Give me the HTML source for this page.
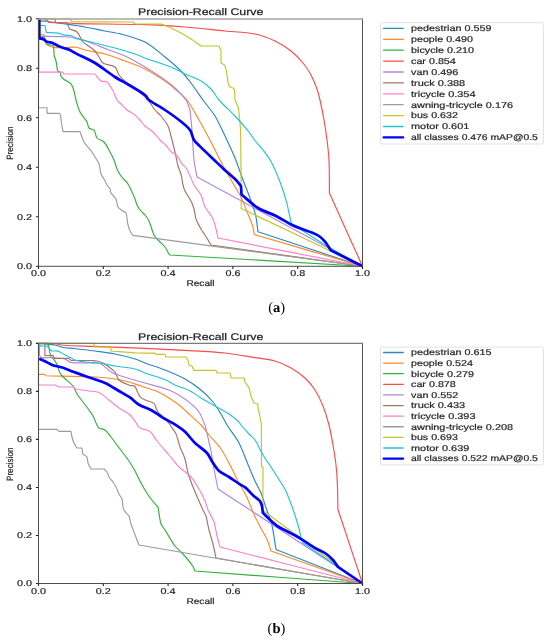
<!DOCTYPE html>
<html><head><meta charset="utf-8"><style>
html,body{margin:0;padding:0;background:#fff;}
svg{display:block;}
text{font-family:"Liberation Sans",sans-serif;text-rendering:geometricPrecision;stroke:#262626;stroke-width:0.2px;}
svg{will-change:transform;}
.cap{font-family:"Liberation Serif",serif;stroke:none;}
</style></head><body>
<svg width="550" height="642" viewBox="0 0 550 642">
<rect width="550" height="642" fill="#fff"/>
<g fill="none" stroke-linejoin="round" stroke-linecap="butt">
<path d="M38.50,18.70 C38.74,19.42 39.06,20.38 39.30,21.10 C41.79,21.10 45.11,21.10 47.60,21.10 C48.05,21.31 48.61,21.72 49.10,21.80 C54.96,22.72 62.83,23.55 68.70,24.40 C73.60,25.11 80.13,26.11 85.00,27.00 C91.02,28.09 98.99,29.83 105.00,31.00 C109.79,31.93 116.29,32.71 121.00,34.00 C128.32,36.01 138.27,38.48 145.00,42.00 C151.65,45.47 159.16,52.30 165.00,57.00 C169.97,61.00 176.49,66.49 181.00,71.00 C184.31,74.31 188.17,79.27 191.00,83.00 C194.77,87.97 199.33,94.95 203.00,100.00 C206.53,104.85 211.87,110.88 215.00,116.00 C218.50,121.72 222.12,129.94 225.00,136.00 C228.12,142.55 232.25,151.29 235.00,158.00 C237.66,164.50 240.54,173.42 243.00,180.00 C245.34,186.23 248.77,194.43 251.00,200.70 C252.61,205.23 254.74,211.31 255.80,216.00 C256.85,220.67 257.34,227.06 258.00,231.80 C289.35,242.15 331.15,255.95 362.50,266.30" stroke="#2a86c6" stroke-width="1.15"/>
<path d="M38.50,34.50 C40.15,34.62 42.35,34.78 44.00,34.90 C44.00,35.77 44.00,36.93 44.00,37.80 C44.66,39.54 45.09,42.11 46.20,43.60 C47.13,44.85 49.09,45.85 50.50,46.50 C51.74,47.07 53.54,47.49 54.90,47.60 C57.74,47.82 61.55,47.64 64.40,47.60 C67.88,47.55 72.54,46.90 76.00,47.30 C78.80,47.63 82.25,49.37 85.00,50.00 C90.96,51.38 99.10,52.38 105.00,54.00 C111.13,55.69 119.05,58.77 125.00,61.00 C131.05,63.27 139.22,66.11 145.00,69.00 C151.26,72.13 159.18,77.12 165.00,81.00 C168.20,83.13 172.09,86.49 175.00,89.00 C178.70,92.19 184.01,96.14 187.00,100.00 C191.28,105.53 195.53,113.92 199.00,120.00 C202.73,126.53 207.51,135.34 211.00,142.00 C214.11,147.94 217.84,156.08 221.00,162.00 C224.74,168.99 230.07,178.12 234.00,185.00 C236.07,188.62 239.17,193.26 241.00,197.00 C242.92,200.93 244.88,206.44 246.50,210.50 C248.48,215.44 251.37,221.93 253.00,227.00 C253.70,229.17 253.84,232.25 254.20,234.50 C286.69,244.04 330.01,256.76 362.50,266.30" stroke="#ff8a26" stroke-width="1.15"/>
<path d="M38.50,37.10 C40.36,37.31 42.84,37.59 44.70,37.80 C45.36,39.78 46.24,42.42 46.90,44.40 C48.88,44.73 51.52,45.17 53.50,45.50 C53.71,48.65 53.99,52.85 54.20,56.00 C54.74,57.50 55.63,59.45 56.00,61.00 C56.72,64.02 56.72,68.29 57.80,71.20 C58.06,71.90 59.68,71.49 60.10,72.10 C60.76,73.07 60.46,74.86 61.00,75.90 C61.60,77.05 62.81,78.36 63.80,79.20 C64.82,80.06 66.50,80.75 67.60,81.50 C68.75,82.28 70.52,83.15 71.30,84.30 C72.51,86.10 73.38,88.92 74.00,91.00 C74.79,93.65 75.24,97.34 76.00,100.00 C77.04,103.65 78.30,108.61 80.00,112.00 C81.64,115.28 85.20,118.81 87.00,122.00 C87.93,123.65 87.75,126.57 89.00,128.00 C90.06,129.22 92.99,128.74 94.00,130.00 C95.60,132.00 95.36,136.03 97.00,138.00 C98.55,139.86 102.35,140.23 104.00,142.00 C106.38,144.56 108.30,148.94 110.00,152.00 C111.30,154.35 112.98,157.52 114.00,160.00 C115.08,162.63 115.86,166.39 117.00,169.00 C117.97,171.22 119.57,174.05 121.00,176.00 C122.89,178.57 126.34,181.28 128.00,184.00 C130.58,188.24 133.04,194.44 135.00,199.00 C135.75,200.74 136.15,203.30 137.00,205.00 C137.97,206.93 139.65,209.31 141.00,211.00 C142.06,212.33 143.94,213.67 145.00,215.00 C146.35,216.69 148.11,219.03 149.00,221.00 C150.83,225.07 152.01,231.01 154.00,235.00 C155.05,237.10 157.42,239.27 159.00,241.00 C160.72,242.88 163.45,244.98 165.00,247.00 C166.47,248.92 167.72,251.95 169.00,254.00 C169.22,254.36 169.70,254.70 170.00,255.00 C227.75,258.39 304.75,262.91 362.50,266.30" stroke="#2fb23a" stroke-width="1.15"/>
<path d="M38.50,18.70 C40.15,18.70 42.35,18.70 44.00,18.70 C44.87,19.21 46.12,19.77 46.90,20.40 C47.55,20.92 48.16,21.87 48.70,22.50 C54.28,22.62 61.72,22.68 67.30,22.90 C69.92,23.01 73.38,23.54 76.00,23.60 C96.70,24.05 124.31,23.95 145.00,24.60 C157.02,24.97 173.02,26.04 185.00,27.00 C197.02,27.96 213.00,29.80 225.00,31.00 C234.00,31.90 246.13,32.23 255.00,34.00 C261.23,35.25 269.25,38.29 275.00,41.00 C280.12,43.42 286.55,47.50 291.00,51.00 C295.00,54.15 299.74,59.09 303.00,63.00 C305.77,66.32 308.95,71.19 311.00,75.00 C313.17,79.02 315.45,84.70 317.00,89.00 C318.16,92.22 319.25,96.66 320.00,100.00 C321.35,105.97 322.95,113.97 324.00,120.00 C325.05,125.98 326.25,133.98 327.00,140.00 C327.75,145.98 328.68,153.98 329.00,160.00 C329.40,167.49 329.31,177.50 329.40,185.00 C329.43,187.40 329.40,190.60 329.40,193.00 C339.33,214.99 352.57,244.31 362.50,266.30" stroke="#ff4a4a" stroke-width="1.15"/>
<path d="M38.50,36.40 C46.48,36.49 57.13,36.40 65.10,36.70 C68.38,36.82 72.81,37.02 76.00,37.80 C80.63,38.93 86.53,41.35 91.00,43.00 C96.43,45.01 103.59,47.93 109.00,50.00 C113.79,51.83 120.36,53.81 125.00,56.00 C131.19,58.92 139.13,63.48 145.00,67.00 C151.14,70.68 159.14,75.90 165.00,80.00 C168.15,82.20 172.22,85.35 175.00,88.00 C178.54,91.37 183.25,95.96 186.00,100.00 C187.82,102.67 188.80,107.00 190.00,110.00 C190.60,116.00 191.52,123.99 192.00,130.00 C192.72,138.99 193.05,151.03 194.00,160.00 C194.55,165.15 196.10,171.90 197.00,177.00 C246.65,203.79 312.85,239.51 362.50,266.30" stroke="#b088dc" stroke-width="1.15"/>
<path d="M38.50,18.70 C43.54,18.70 50.26,18.70 55.30,18.70 C55.30,19.84 55.30,21.36 55.30,22.50 C58.90,22.74 63.70,23.06 67.30,23.30 C67.96,25.04 68.84,27.36 69.50,29.10 C71.75,29.97 75.26,30.33 77.00,32.00 C79.53,34.42 80.87,39.23 83.00,42.00 C83.91,43.19 85.80,44.10 87.00,45.00 C89.40,46.80 92.88,48.88 95.00,51.00 C96.53,52.53 97.80,55.20 99.00,57.00 C100.20,58.80 101.17,61.85 103.00,63.00 C106.22,65.01 111.96,64.72 115.00,67.00 C117.15,68.61 117.39,72.85 119.00,75.00 C121.04,77.72 124.39,80.83 127.00,83.00 C129.81,85.34 134.15,87.70 137.00,90.00 C140.47,92.81 145.02,96.69 148.00,100.00 C150.45,102.72 152.69,107.16 155.00,110.00 C156.61,111.98 159.39,114.02 161.00,116.00 C163.31,118.84 166.36,122.72 168.00,126.00 C169.40,128.80 170.19,132.98 171.00,136.00 C172.29,140.78 173.88,147.18 175.00,152.00 C175.98,156.18 176.87,161.86 178.00,166.00 C178.67,168.47 180.35,171.52 181.00,174.00 C181.85,177.24 182.23,181.74 183.00,185.00 C183.43,186.85 184.15,189.30 185.00,191.00 C186.56,194.13 189.44,197.87 191.00,201.00 C192.15,203.29 193.31,206.53 194.00,209.00 C194.82,211.95 194.99,216.11 196.00,219.00 C197.11,222.17 199.36,226.08 201.00,229.00 C202.06,230.89 203.85,233.17 205.00,235.00 C206.85,237.97 209.20,242.00 211.00,245.00 C256.45,251.39 317.05,259.91 362.50,266.30" stroke="#a47464" stroke-width="1.15"/>
<path d="M38.90,18.70 C38.90,34.72 38.90,56.08 38.90,72.10 C46.10,72.10 55.70,72.10 62.90,72.10 C63.17,72.67 63.53,73.43 63.80,74.00 C73.16,74.00 85.64,74.00 95.00,74.00 C96.80,76.10 98.70,79.47 101.00,81.00 C102.52,82.01 105.60,80.83 107.00,82.00 C109.49,84.08 111.42,88.16 113.00,91.00 C114.43,93.58 115.45,97.48 117.00,100.00 C117.89,101.45 119.80,102.80 121.00,104.00 C122.80,105.80 125.00,108.43 127.00,110.00 C129.23,111.75 132.74,113.30 135.00,115.00 C136.36,116.02 137.86,117.74 139.00,119.00 C140.86,121.05 142.97,124.12 145.00,126.00 C147.20,128.04 150.81,129.95 153.00,132.00 C155.33,134.18 157.79,137.70 160.00,140.00 C161.84,141.91 164.67,144.07 166.50,146.00 C167.98,147.56 169.41,150.15 171.00,151.60 C172.42,152.89 175.12,153.58 176.40,155.00 C178.44,157.26 179.99,161.15 181.80,163.60 C182.88,165.07 184.99,166.48 186.00,168.00 C187.63,170.45 189.25,174.04 190.50,176.70 C191.65,179.15 192.66,182.66 194.00,185.00 C195.82,188.18 199.36,191.72 201.00,195.00 C202.70,198.39 203.30,203.61 205.00,207.00 C206.64,210.28 210.22,213.80 212.00,217.00 C213.24,219.24 214.30,222.54 215.00,225.00 C216.10,228.85 217.10,234.10 218.00,238.00 C261.35,246.49 319.15,257.81 362.50,266.30" stroke="#ff80cc" stroke-width="1.15"/>
<path d="M38.50,18.70 C38.50,45.40 38.50,81.00 38.50,107.70 C41.05,107.70 44.45,107.70 47.00,107.70 C47.00,109.38 47.00,111.62 47.00,113.30 C50.66,113.30 55.54,113.30 59.20,113.30 C59.62,113.99 60.39,114.82 60.60,115.60 C60.94,116.88 60.88,118.68 61.00,120.00 C61.60,123.48 62.40,128.12 63.00,131.60 C68.10,131.60 74.90,131.60 80.00,131.60 C80.60,133.22 81.38,135.39 82.00,137.00 C82.58,138.51 83.22,140.59 84.00,142.00 C84.73,143.31 86.06,144.83 87.00,146.00 C88.46,147.83 90.62,150.11 92.00,152.00 C93.03,153.41 94.12,155.49 95.00,157.00 C96.22,159.09 98.20,161.72 99.00,164.00 C100.02,166.88 100.03,171.10 101.00,174.00 C101.55,175.66 103.16,177.46 104.00,179.00 C104.96,180.77 105.96,183.27 107.00,185.00 C107.77,186.29 109.33,187.66 110.00,189.00 C110.55,190.11 110.36,191.94 111.00,193.00 C112.21,195.01 114.95,196.90 116.00,199.00 C117.11,201.21 116.75,204.86 118.00,207.00 C118.97,208.66 121.46,209.85 123.00,211.00 C123.87,211.65 125.64,211.98 126.00,213.00 C127.23,216.44 127.11,221.46 128.00,225.00 C128.62,227.49 129.89,230.69 131.00,233.00 C131.41,233.84 132.40,234.68 133.00,235.40 C201.85,244.67 293.65,257.03 362.50,266.30" stroke="#9c9c9c" stroke-width="1.15"/>
<path d="M38.50,18.70 C48.10,18.70 60.90,18.70 70.50,18.70 C70.83,19.63 71.27,20.87 71.60,21.80 C90.02,21.86 114.58,21.94 133.00,22.00 C133.60,22.60 134.40,23.40 135.00,24.00 C142.80,24.00 153.20,24.00 161.00,24.00 C163.40,24.90 166.66,25.95 169.00,27.00 C172.67,28.65 177.47,31.07 181.00,33.00 C184.07,34.68 188.07,37.09 191.00,39.00 C194.07,41.00 198.00,43.90 201.00,46.00 C206.40,46.00 213.60,46.00 219.00,46.00 C219.60,47.50 220.40,49.50 221.00,51.00 C221.00,54.60 221.00,59.40 221.00,63.00 C222.20,63.90 224.33,64.66 225.00,66.00 C226.24,68.47 226.46,72.29 227.00,75.00 C227.66,78.29 227.50,83.00 229.00,86.00 C229.78,87.56 233.31,87.39 234.00,89.00 C235.31,92.05 234.70,96.70 235.00,100.00 C236.05,102.40 237.45,105.60 238.50,108.00 C239.10,114.60 240.32,123.38 240.50,130.00 C241.13,153.51 240.99,184.88 241.20,208.40 C277.59,225.77 326.11,248.93 362.50,266.30" stroke="#c4c428" stroke-width="1.15"/>
<path d="M38.50,25.50 C40.48,25.50 43.12,25.50 45.10,25.50 C45.43,27.57 45.87,30.33 46.20,32.40 C49.68,32.61 54.35,32.60 57.80,33.10 C59.60,33.36 61.81,34.55 63.60,34.90 C66.21,35.42 69.85,35.23 72.40,36.00 C73.27,36.26 73.87,37.54 74.50,38.20 C80.65,39.64 88.86,41.51 95.00,43.00 C101.01,44.45 109.04,46.36 115.00,48.00 C121.04,49.66 129.06,52.02 135.00,54.00 C138.07,55.02 141.96,56.90 145.00,58.00 C152.76,60.80 163.34,63.93 171.00,67.00 C175.36,68.74 180.74,72.01 185.00,74.00 C189.75,76.22 196.46,78.38 201.00,81.00 C204.33,82.92 208.36,86.21 211.00,89.00 C213.81,91.96 216.29,96.95 219.00,100.00 C223.51,105.07 230.36,111.05 235.00,116.00 C239.36,120.65 244.98,127.05 249.00,132.00 C250.84,134.26 252.71,137.70 254.50,140.00 C256.92,143.11 260.61,146.87 263.00,150.00 C265.57,153.36 269.03,157.86 271.00,161.60 C274.27,167.80 277.88,176.46 280.40,183.00 C282.53,188.53 284.97,196.07 286.50,201.80 C288.21,208.21 289.79,216.92 291.20,223.40 C301.64,230.03 315.56,238.87 326.00,245.50 C336.95,251.74 351.55,260.06 362.50,266.30" stroke="#1ec4d6" stroke-width="1.15"/>
<path d="M39.30,18.70 C39.30,24.64 39.30,32.56 39.30,38.50 C40.50,38.74 42.18,38.81 43.30,39.30 C44.51,39.82 45.67,41.33 46.90,41.80 C48.55,42.43 51.04,42.29 52.70,42.90 C54.35,43.51 56.21,45.05 57.80,45.80 C59.49,46.59 61.84,47.40 63.60,48.00 C65.11,48.51 67.24,48.86 68.70,49.50 C70.77,50.40 73.29,52.07 75.30,53.10 C81.18,56.12 89.33,59.59 95.00,63.00 C101.27,66.78 108.85,73.02 115.00,77.00 C119.06,79.63 124.85,82.51 129.00,85.00 C133.85,87.91 140.47,91.60 145.00,95.00 C146.54,96.15 147.46,98.85 149.00,100.00 C153.53,103.40 160.29,106.86 165.00,110.00 C169.29,112.86 174.97,116.78 179.00,120.00 C182.48,122.79 187.32,126.43 190.00,130.00 C191.94,132.58 192.32,137.24 194.00,140.00 C195.37,142.25 198.12,144.55 200.00,146.40 C205.33,151.64 212.61,158.43 218.00,163.60 C219.69,165.21 221.87,167.43 223.60,169.00 C227.28,172.35 232.44,176.52 236.00,180.00 C237.68,181.64 239.50,184.20 241.00,186.00 C241.15,188.55 241.35,191.95 241.50,194.50 C246.45,198.55 252.57,204.62 258.00,208.00 C263.02,211.13 270.71,213.36 276.00,216.00 C280.63,218.31 286.40,222.14 291.00,224.50 C293.61,225.84 297.26,227.25 300.00,228.30 C303.51,229.65 308.32,231.08 311.80,232.50 C314.00,233.40 316.93,234.67 318.90,236.00 C320.87,237.33 323.21,239.53 324.80,241.30 C326.08,242.73 327.34,245.00 328.40,246.60 C329.11,247.67 330.01,249.12 330.70,250.20 C340.24,255.03 352.96,261.47 362.50,266.30" stroke="#0000ff" stroke-width="2.70"/>
</g>
<path d="M38.5,18.2 L38.5,266.3 L362.5,266.3" fill="none" stroke="#4d4d4d" stroke-width="1"/>
<path d="M362.5,18.2 L362.5,266.3" fill="none" stroke="#4d4d4d" stroke-width="1"/>
<path d="M38.0,19.00 L363.0,19.00" fill="none" stroke="#a4a4a4" stroke-width="1.60"/>
<path d="M38.5,266.3 L38.5,268.9 M35.9,266.3 L38.5,266.3 M103.3,266.3 L103.3,268.9 M35.9,216.8 L38.5,216.8 M168.1,266.3 L168.1,268.9 M35.9,167.3 L38.5,167.3 M232.9,266.3 L232.9,268.9 M35.9,117.7 L38.5,117.7 M297.7,266.3 L297.7,268.9 M35.9,68.2 L38.5,68.2 M362.5,266.3 L362.5,268.9 M35.9,18.7 L38.5,18.7" stroke="#262626" stroke-width="1.1"/>
<text x="31.00" y="276.40" font-size="8.40" textLength="15.00" lengthAdjust="spacingAndGlyphs" fill="#262626">0.0</text>
<text x="17.00" y="269.10" font-size="8.40" textLength="15.00" lengthAdjust="spacingAndGlyphs" fill="#262626">0.0</text>
<text x="95.80" y="276.40" font-size="8.40" textLength="15.00" lengthAdjust="spacingAndGlyphs" fill="#262626">0.2</text>
<text x="17.00" y="219.58" font-size="8.40" textLength="15.00" lengthAdjust="spacingAndGlyphs" fill="#262626">0.2</text>
<text x="160.60" y="276.40" font-size="8.40" textLength="15.00" lengthAdjust="spacingAndGlyphs" fill="#262626">0.4</text>
<text x="17.00" y="170.06" font-size="8.40" textLength="15.00" lengthAdjust="spacingAndGlyphs" fill="#262626">0.4</text>
<text x="225.40" y="276.40" font-size="8.40" textLength="15.00" lengthAdjust="spacingAndGlyphs" fill="#262626">0.6</text>
<text x="17.00" y="120.54" font-size="8.40" textLength="15.00" lengthAdjust="spacingAndGlyphs" fill="#262626">0.6</text>
<text x="290.20" y="276.40" font-size="8.40" textLength="15.00" lengthAdjust="spacingAndGlyphs" fill="#262626">0.8</text>
<text x="17.00" y="71.02" font-size="8.40" textLength="15.00" lengthAdjust="spacingAndGlyphs" fill="#262626">0.8</text>
<text x="355.00" y="276.40" font-size="8.40" textLength="15.00" lengthAdjust="spacingAndGlyphs" fill="#262626">1.0</text>
<text x="17.00" y="21.50" font-size="8.40" textLength="15.00" lengthAdjust="spacingAndGlyphs" fill="#262626">1.0</text>
<text x="186.43" y="286.40" font-size="8.40" textLength="28.13" lengthAdjust="spacingAndGlyphs" fill="#262626">Recall</text>
<text transform="translate(12.9,143.10) rotate(-90)" x="-16.73" y="0" font-size="9.10" textLength="33.46" lengthAdjust="spacingAndGlyphs" fill="#262626">Precision</text>
<text x="138.13" y="14.90" font-size="9.60" textLength="125.14" lengthAdjust="spacingAndGlyphs" fill="#262626" style="stroke-width:0.25px">Precision-Recall Curve</text>
<rect x="380.5" y="22.7" width="162.9" height="121.3" rx="2" fill="#fff" fill-opacity="0.8" stroke="#d9d9d9" stroke-width="0.8"/>
<path d="M383.6,28.40 L403.2,28.40" stroke="#2a86c6" stroke-width="1.3" stroke-linecap="round"/>
<text x="411.00" y="31.20" font-size="8.40" textLength="80.43" lengthAdjust="spacingAndGlyphs" fill="#262626">pedestrian 0.559</text>
<path d="M383.6,39.30 L403.2,39.30" stroke="#ff8a26" stroke-width="1.3" stroke-linecap="round"/>
<text x="411.00" y="42.10" font-size="8.40" textLength="61.96" lengthAdjust="spacingAndGlyphs" fill="#262626">people 0.490</text>
<path d="M383.6,50.20 L403.2,50.20" stroke="#2fb23a" stroke-width="1.3" stroke-linecap="round"/>
<text x="411.00" y="53.00" font-size="8.40" textLength="62.97" lengthAdjust="spacingAndGlyphs" fill="#262626">bicycle 0.210</text>
<path d="M383.6,61.10 L403.2,61.10" stroke="#ff4a4a" stroke-width="1.3" stroke-linecap="round"/>
<text x="411.00" y="63.90" font-size="8.40" textLength="44.83" lengthAdjust="spacingAndGlyphs" fill="#262626">car 0.854</text>
<path d="M383.6,72.00 L403.2,72.00" stroke="#b088dc" stroke-width="1.3" stroke-linecap="round"/>
<text x="411.00" y="74.80" font-size="8.40" textLength="47.33" lengthAdjust="spacingAndGlyphs" fill="#262626">van 0.496</text>
<path d="M383.6,82.90 L403.2,82.90" stroke="#a47464" stroke-width="1.3" stroke-linecap="round"/>
<text x="411.00" y="85.70" font-size="8.40" textLength="54.19" lengthAdjust="spacingAndGlyphs" fill="#262626">truck 0.388</text>
<path d="M383.6,93.80 L403.2,93.80" stroke="#ff80cc" stroke-width="1.3" stroke-linecap="round"/>
<text x="411.00" y="96.60" font-size="8.40" textLength="64.56" lengthAdjust="spacingAndGlyphs" fill="#262626">tricycle 0.354</text>
<path d="M383.6,104.70 L403.2,104.70" stroke="#9c9c9c" stroke-width="1.3" stroke-linecap="round"/>
<text x="411.00" y="107.50" font-size="8.40" textLength="102.01" lengthAdjust="spacingAndGlyphs" fill="#262626">awning-tricycle 0.176</text>
<path d="M383.6,115.60 L403.2,115.60" stroke="#c4c428" stroke-width="1.3" stroke-linecap="round"/>
<text x="411.00" y="118.40" font-size="8.40" textLength="46.87" lengthAdjust="spacingAndGlyphs" fill="#262626">bus 0.632</text>
<path d="M383.6,126.50 L403.2,126.50" stroke="#1ec4d6" stroke-width="1.3" stroke-linecap="round"/>
<text x="411.00" y="129.30" font-size="8.40" textLength="58.29" lengthAdjust="spacingAndGlyphs" fill="#262626">motor 0.601</text>
<path d="M383.6,137.40 L403.2,137.40" stroke="#0000ff" stroke-width="2.3" stroke-linecap="round"/>
<text x="411.00" y="140.20" font-size="8.40" textLength="126.88" lengthAdjust="spacingAndGlyphs" fill="#262626">all classes 0.476 mAP@0.5</text>
<g fill="none" stroke-linejoin="round" stroke-linecap="butt">
<path d="M38.50,343.40 C43.45,343.88 50.09,344.18 55.00,345.00 C57.51,345.42 60.60,347.04 63.10,347.50 C66.33,348.09 70.74,348.14 74.00,348.50 C80.31,349.19 88.71,350.16 95.00,351.00 C101.01,351.81 109.05,352.81 115.00,354.00 C121.06,355.21 129.08,357.22 135.00,359.00 C138.09,359.93 141.97,361.89 145.00,363.00 C150.97,365.19 159.10,367.64 165.00,370.00 C171.11,372.44 179.25,375.80 185.00,379.00 C190.09,381.83 196.50,386.30 201.00,390.00 C204.93,393.23 209.74,398.09 213.00,402.00 C215.77,405.32 218.75,410.30 221.00,414.00 C222.95,417.21 225.02,421.81 227.00,425.00 C230.42,430.51 235.99,437.25 239.00,443.00 C242.62,449.91 245.97,459.81 249.00,467.00 C250.77,471.21 253.09,476.85 255.00,481.00 C256.69,484.65 259.48,489.27 261.00,493.00 C262.85,497.51 264.60,503.79 266.20,508.40 C267.78,512.97 270.48,518.89 271.60,523.60 C273.43,531.27 274.68,541.73 276.00,549.50 C301.95,559.70 336.55,573.30 362.50,583.50" stroke="#2a86c6" stroke-width="1.15"/>
<path d="M38.50,374.40 C40.30,374.40 42.70,374.40 44.50,374.40 C44.95,374.82 45.55,375.38 46.00,375.80 C60.70,376.16 80.31,376.32 95.00,377.00 C101.02,377.28 109.04,378.11 115.00,379.00 C119.55,379.68 125.56,381.00 130.00,382.20 C133.34,383.10 137.62,384.88 140.90,386.00 C145.81,387.67 152.51,389.50 157.30,391.50 C160.73,392.93 165.04,395.44 168.20,397.40 C171.59,399.50 175.99,402.50 179.10,405.00 C182.54,407.77 186.74,411.92 190.00,414.90 C193.31,417.92 197.92,421.74 201.00,425.00 C203.64,427.79 206.54,432.05 209.00,435.00 C212.54,439.25 217.87,444.44 221.00,449.00 C224.50,454.09 228.11,461.54 231.00,467.00 C233.51,471.74 236.50,478.25 239.00,483.00 C241.15,487.08 244.52,492.24 246.50,496.40 C249.09,501.83 251.75,509.41 254.20,514.90 C255.69,518.23 257.91,522.56 259.60,525.80 C261.84,530.10 265.30,535.58 267.30,540.00 C268.74,543.17 269.89,547.70 271.00,551.00 C298.45,560.75 335.05,573.75 362.50,583.50" stroke="#ff8a26" stroke-width="1.15"/>
<path d="M38.50,343.40 C41.41,343.40 45.29,343.40 48.20,343.40 C48.53,345.26 48.94,347.75 49.30,349.60 C49.69,351.59 49.87,354.36 50.70,356.20 C51.21,357.32 52.83,358.14 53.60,359.10 C54.58,360.34 55.82,362.07 56.50,363.50 C58.02,366.68 58.81,371.56 60.90,374.40 C63.87,378.46 69.81,382.11 73.00,386.00 C74.70,388.07 75.58,391.72 77.00,394.00 C78.59,396.54 81.20,399.60 83.00,402.00 C84.80,404.40 87.26,407.56 89.00,410.00 C90.26,411.76 91.98,414.09 93.00,416.00 C94.39,418.61 95.68,422.36 97.00,425.00 C97.48,425.97 98.08,427.43 99.00,428.00 C100.61,429.01 103.48,428.86 105.00,430.00 C107.21,431.66 109.27,434.84 111.00,437.00 C112.87,439.34 115.20,442.60 117.00,445.00 C118.80,447.40 121.20,450.60 123.00,453.00 C124.80,455.40 127.34,458.50 129.00,461.00 C130.94,463.91 133.30,467.94 135.00,471.00 C136.30,473.35 137.75,476.63 139.00,479.00 C140.75,482.33 143.07,486.78 145.00,490.00 C146.67,492.78 149.03,496.42 151.00,499.00 C152.94,501.53 155.90,504.60 158.00,507.00 C158.90,512.10 159.49,519.05 161.00,524.00 C161.63,526.07 163.84,528.17 165.00,530.00 C168.04,534.78 171.60,541.47 175.00,546.00 C177.04,548.72 180.74,551.47 183.00,554.00 C185.84,557.18 189.54,561.52 192.00,565.00 C193.16,566.64 194.10,569.20 195.00,571.00 C245.25,574.75 312.25,579.75 362.50,583.50" stroke="#2fb23a" stroke-width="1.15"/>
<path d="M38.50,343.40 C43.45,343.46 50.06,343.22 55.00,343.60 C57.48,343.79 60.62,345.13 63.10,345.30 C72.65,345.97 85.43,346.04 95.00,346.40 C110.00,346.97 130.00,347.73 145.00,348.40 C157.00,348.93 173.00,349.71 185.00,350.40 C197.01,351.09 213.04,351.77 225.00,353.00 C234.06,353.93 246.01,356.16 255.00,357.60 C261.01,358.56 269.15,359.31 275.00,361.00 C280.03,362.45 286.44,365.42 291.00,368.00 C295.49,370.54 301.20,374.51 305.00,378.00 C308.45,381.17 312.47,386.06 315.00,390.00 C317.90,394.51 321.01,401.02 323.00,406.00 C325.22,411.55 327.52,419.21 329.00,425.00 C330.52,430.93 331.95,438.97 333.00,445.00 C334.05,450.98 335.34,458.97 336.00,465.00 C336.66,470.98 337.14,478.99 337.40,485.00 C337.71,492.28 337.75,502.01 337.90,509.30 C345.28,531.56 355.12,561.24 362.50,583.50" stroke="#ff4a4a" stroke-width="1.15"/>
<path d="M39.50,343.40 C39.50,347.03 39.50,351.87 39.50,355.50 C40.04,356.13 40.76,356.97 41.30,357.60 C44.57,357.60 48.93,357.60 52.20,357.60 C56.13,358.05 61.48,358.09 65.30,359.10 C67.06,359.56 68.60,362.13 70.40,362.40 C76.51,363.33 84.83,362.68 91.00,363.00 C94.01,363.16 98.25,362.76 101.00,364.00 C104.50,365.58 107.71,370.02 111.00,372.00 C113.77,373.66 117.94,374.95 121.00,376.00 C124.97,377.36 130.37,378.84 134.40,380.00 C139.61,381.51 146.59,383.39 151.80,384.90 C156.73,386.33 163.40,387.97 168.20,389.80 C171.62,391.10 175.96,393.41 179.10,395.30 C182.52,397.35 186.95,400.34 190.00,402.90 C192.94,405.37 196.84,408.82 199.00,412.00 C201.41,415.55 203.20,421.10 205.00,425.00 C206.80,432.80 209.40,443.16 211.00,451.00 C212.10,456.36 213.01,463.62 214.00,469.00 C215.11,475.02 216.80,483.00 218.00,489.00 C261.35,517.35 319.15,555.15 362.50,583.50" stroke="#b088dc" stroke-width="1.15"/>
<path d="M44.90,343.40 C44.90,347.03 44.90,351.87 44.90,355.50 C47.42,355.50 50.78,355.50 53.30,355.50 C53.63,356.37 54.07,357.53 54.40,358.40 C58.75,358.40 64.55,358.40 68.90,358.40 C69.56,359.03 70.44,359.87 71.10,360.50 C77.07,360.50 85.03,360.50 91.00,360.50 C92.80,360.65 95.23,360.63 97.00,361.00 C98.86,361.39 101.30,362.15 103.00,363.00 C104.93,363.97 107.27,365.70 109.00,367.00 C110.87,368.41 113.57,370.14 115.00,372.00 C116.64,374.13 117.01,378.20 119.00,380.00 C121.74,382.47 126.56,384.16 130.00,385.50 C131.24,385.98 133.39,385.14 134.40,386.00 C135.95,387.33 136.66,390.19 137.60,392.00 C138.28,393.31 138.83,395.29 139.80,396.40 C140.87,397.63 142.74,398.88 144.20,399.60 C147.03,400.99 151.46,401.54 154.00,403.40 C155.32,404.37 155.50,406.92 156.20,408.40 C156.82,409.71 157.45,411.60 158.40,412.70 C161.42,416.20 166.18,420.19 169.30,423.60 C170.09,424.47 170.75,425.92 171.40,426.90 C172.70,428.86 174.74,431.30 175.80,433.40 C176.74,435.26 177.38,438.01 178.00,440.00 C178.64,442.09 179.24,444.95 180.00,447.00 C181.35,450.66 183.85,455.27 185.00,459.00 C186.26,463.11 186.82,468.87 188.00,473.00 C189.23,477.29 191.37,482.85 193.00,487.00 C194.67,491.25 197.18,496.81 199.00,501.00 C200.18,503.71 201.75,507.32 203.00,510.00 C203.85,511.82 205.42,514.07 206.00,516.00 C207.23,520.11 207.96,525.83 209.00,530.00 C210.06,534.24 211.94,539.76 213.00,544.00 C214.04,548.17 215.10,553.80 216.00,558.00 C259.95,565.65 318.55,575.85 362.50,583.50" stroke="#a47464" stroke-width="1.15"/>
<path d="M38.50,343.40 C38.50,355.88 38.50,372.52 38.50,385.00 C43.45,385.00 50.05,385.00 55.00,385.00 C56.20,385.60 57.80,386.40 59.00,387.00 C63.20,387.00 68.80,387.00 73.00,387.00 C73.90,387.60 74.95,388.74 76.00,389.00 C79.83,389.96 85.10,390.42 89.00,391.00 C92.00,391.44 96.24,391.16 99.00,392.40 C102.44,393.95 106.03,397.68 109.00,400.00 C112.03,402.36 115.85,405.80 119.00,408.00 C121.87,410.01 126.33,411.74 129.00,414.00 C131.36,416.00 133.64,419.53 135.50,422.00 C136.56,423.40 137.42,425.70 138.70,426.90 C139.78,427.91 141.72,428.57 143.10,429.10 C144.68,429.71 146.99,429.95 148.50,430.70 C149.65,431.27 150.99,432.41 151.80,433.40 C153.56,435.53 155.28,438.84 157.00,441.00 C160.45,445.33 165.43,450.78 169.00,455.00 C172.03,458.58 175.69,463.69 179.00,467.00 C182.31,470.31 187.85,473.53 191.00,477.00 C193.91,480.20 196.82,485.26 199.00,489.00 C201.03,492.48 203.41,497.30 205.00,501.00 C206.12,503.62 206.88,507.38 208.00,510.00 C209.59,513.70 212.68,518.20 214.00,522.00 C215.41,526.06 216.00,531.82 217.00,536.00 C217.80,539.33 219.10,543.70 220.00,547.00 C262.75,557.95 319.75,572.55 362.50,583.50" stroke="#ff80cc" stroke-width="1.15"/>
<path d="M38.50,343.40 C38.50,369.20 38.50,403.60 38.50,429.40 C44.05,429.40 51.45,429.40 57.00,429.40 C57.60,430.00 58.40,430.80 59.00,431.40 C62.60,431.40 67.40,431.40 71.00,431.40 C71.30,433.08 71.57,435.35 72.00,437.00 C72.48,438.84 73.21,441.27 74.00,443.00 C74.72,444.59 76.10,446.50 77.00,448.00 C78.50,448.00 80.50,448.00 82.00,448.00 C82.30,449.80 82.11,452.40 83.00,454.00 C83.73,455.31 86.27,455.69 87.00,457.00 C87.89,458.60 87.42,461.27 88.00,463.00 C88.64,464.91 90.10,467.20 91.00,469.00 C94.90,469.00 100.10,469.00 104.00,469.00 C104.90,469.90 106.33,470.92 107.00,472.00 C107.86,473.37 108.17,475.61 109.00,477.00 C109.99,478.65 111.90,480.43 113.00,482.00 C114.00,483.43 115.22,485.44 116.00,487.00 C117.02,489.04 117.98,491.96 119.00,494.00 C119.78,495.56 121.49,497.33 122.00,499.00 C122.71,501.31 122.57,504.62 123.00,507.00 C123.17,507.93 123.53,509.18 124.00,510.00 C124.74,511.30 126.04,512.85 127.00,514.00 C127.54,514.65 128.68,515.21 129.00,516.00 C129.92,518.30 130.26,521.64 131.00,524.00 C131.76,526.45 133.10,529.60 134.00,532.00 C134.90,534.40 136.08,537.61 137.00,540.00 C137.58,541.51 138.40,543.50 139.00,545.00 C206.05,556.55 295.45,571.95 362.50,583.50" stroke="#9c9c9c" stroke-width="1.15"/>
<path d="M38.50,343.40 C55.15,343.40 77.35,343.40 94.00,343.40 C94.00,344.48 94.00,345.92 94.00,347.00 C99.10,347.00 105.90,347.00 111.00,347.00 C111.00,348.20 111.00,349.80 111.00,351.00 C118.80,351.60 129.19,352.64 137.00,353.00 C142.39,353.25 149.60,353.00 155.00,353.00 C155.30,353.42 155.70,353.98 156.00,354.40 C158.70,354.40 162.30,354.40 165.00,354.40 C165.30,355.18 165.70,356.22 166.00,357.00 C172.00,357.00 180.00,357.00 186.00,357.00 C186.60,357.90 187.40,359.10 188.00,360.00 C188.30,361.50 188.70,363.50 189.00,365.00 C189.90,365.30 191.10,365.70 192.00,366.00 C192.60,367.32 193.40,369.08 194.00,370.40 C200.60,370.40 209.40,370.40 216.00,370.40 C216.30,371.18 216.70,372.22 217.00,373.00 C220.90,373.00 226.10,373.00 230.00,373.00 C230.30,374.50 230.70,376.50 231.00,378.00 C234.90,378.00 240.10,378.00 244.00,378.00 C244.30,379.20 244.70,380.80 245.00,382.00 C246.20,383.80 248.15,386.01 249.00,388.00 C249.97,390.27 250.22,393.65 251.00,396.00 C251.72,398.17 253.10,400.90 254.00,403.00 C255.20,403.30 256.80,403.70 258.00,404.00 C258.00,405.20 258.00,406.80 258.00,408.00 C258.60,410.70 259.46,414.29 260.00,417.00 C260.48,419.39 260.98,422.60 261.40,425.00 C261.40,437.60 261.40,454.40 261.40,467.00 C261.88,467.00 262.52,467.00 263.00,467.00 C262.97,480.05 262.93,497.45 262.90,510.50 C292.78,532.40 332.62,561.60 362.50,583.50" stroke="#c4c428" stroke-width="1.15"/>
<path d="M40.20,344.50 C40.20,344.95 40.20,345.55 40.20,346.00 C42.27,346.00 45.03,346.00 47.10,346.00 C48.42,347.41 49.75,349.88 51.50,350.70 C53.27,351.53 56.14,350.51 58.00,351.10 C60.38,351.86 63.09,353.94 65.30,355.10 C66.81,355.89 68.88,356.83 70.40,357.60 C71.79,358.30 73.51,359.55 75.00,360.00 C77.93,360.88 81.96,361.62 85.00,362.00 C89.18,362.52 94.81,362.58 99.00,363.00 C100.82,363.18 103.21,363.66 105.00,364.00 C108.01,364.56 111.98,365.50 115.00,366.00 C120.98,367.00 129.09,367.62 135.00,369.00 C138.15,369.73 141.95,371.92 145.00,373.00 C151.26,375.22 159.83,377.54 166.00,380.00 C168.45,380.98 171.20,383.31 173.60,384.40 C178.42,386.59 185.26,388.55 190.00,390.90 C193.52,392.65 197.64,395.97 201.00,398.00 C205.14,400.50 210.80,403.60 215.00,406.00 C219.20,408.40 224.98,411.32 229.00,414.00 C232.20,416.13 236.17,419.40 239.00,422.00 C239.80,422.73 240.31,424.17 241.00,425.00 C243.31,427.78 246.54,431.36 249.00,434.00 C250.74,435.86 253.59,437.88 255.00,440.00 C257.83,444.24 260.40,450.61 263.00,455.00 C265.21,458.72 268.64,463.38 271.00,467.00 C273.53,470.88 276.86,476.07 279.30,480.00 C281.30,483.24 284.16,487.46 285.80,490.90 C288.08,495.68 290.54,502.31 292.30,507.30 C294.47,513.45 297.12,521.73 298.90,528.00 C299.74,530.95 300.19,535.04 301.00,538.00 C301.43,539.56 302.40,541.50 303.00,543.00 C320.85,555.15 344.65,571.35 362.50,583.50" stroke="#1ec4d6" stroke-width="1.15"/>
<path d="M39.10,358.70 C40.84,359.48 43.18,360.48 44.90,361.30 C47.11,362.34 49.90,364.08 52.20,364.90 C55.39,366.04 59.88,366.77 63.10,367.80 C65.35,368.52 68.19,369.87 70.40,370.70 C74.76,372.33 80.61,374.44 85.00,376.00 C90.99,378.13 99.18,380.43 105.00,383.00 C109.43,384.95 114.81,388.59 119.00,391.00 C122.31,392.91 126.85,395.24 130.00,397.40 C132.78,399.30 135.81,402.76 138.70,404.50 C142.41,406.73 148.01,408.43 151.80,410.50 C155.23,412.37 159.35,415.59 162.70,417.60 C165.90,419.52 170.44,421.61 173.60,423.60 C176.99,425.73 181.53,428.61 184.50,431.30 C187.99,434.47 191.61,439.73 195.00,443.00 C198.37,446.25 203.87,449.52 207.00,453.00 C209.34,455.60 211.06,460.09 213.00,463.00 C214.66,465.50 216.74,469.02 219.00,471.00 C221.63,473.30 226.05,475.12 229.00,477.00 C232.35,479.14 236.65,482.25 240.00,484.40 C241.61,485.43 244.04,486.37 245.50,487.60 C247.97,489.67 250.64,493.11 253.00,495.30 C254.87,497.04 257.88,498.81 259.60,500.70 C260.57,501.77 261.14,503.71 261.80,505.00 C262.13,507.31 262.57,510.39 262.90,512.70 C264.55,514.35 266.69,516.61 268.40,518.20 C270.92,520.54 274.16,523.86 277.00,525.80 C280.38,528.11 285.40,530.34 289.00,532.30 C292.30,534.09 296.78,536.36 300.00,538.30 C304.59,541.07 310.38,545.28 315.00,548.00 C317.89,549.70 322.21,551.14 325.00,553.00 C327.65,554.77 330.83,557.66 333.00,560.00 C334.76,561.89 336.50,564.90 338.00,567.00 C345.35,571.95 355.15,578.55 362.50,583.50" stroke="#0000ff" stroke-width="2.70"/>
</g>
<path d="M38.5,342.9 L38.5,583.5 L362.5,583.5" fill="none" stroke="#4d4d4d" stroke-width="1"/>
<path d="M362.5,342.9 L362.5,583.5" fill="none" stroke="#4d4d4d" stroke-width="1"/>
<path d="M38.0,343.40 L363.0,343.40" fill="none" stroke="#7a7a7a" stroke-width="1.10"/>
<path d="M38.5,583.5 L38.5,586.1 M35.9,583.5 L38.5,583.5 M103.3,583.5 L103.3,586.1 M35.9,535.5 L38.5,535.5 M168.1,583.5 L168.1,586.1 M35.9,487.5 L38.5,487.5 M232.9,583.5 L232.9,586.1 M35.9,439.4 L38.5,439.4 M297.7,583.5 L297.7,586.1 M35.9,391.4 L38.5,391.4 M362.5,583.5 L362.5,586.1 M35.9,343.4 L38.5,343.4" stroke="#262626" stroke-width="1.1"/>
<text x="31.00" y="593.70" font-size="8.40" textLength="15.00" lengthAdjust="spacingAndGlyphs" fill="#262626">0.0</text>
<text x="17.00" y="586.30" font-size="8.40" textLength="15.00" lengthAdjust="spacingAndGlyphs" fill="#262626">0.0</text>
<text x="95.80" y="593.70" font-size="8.40" textLength="15.00" lengthAdjust="spacingAndGlyphs" fill="#262626">0.2</text>
<text x="17.00" y="538.28" font-size="8.40" textLength="15.00" lengthAdjust="spacingAndGlyphs" fill="#262626">0.2</text>
<text x="160.60" y="593.70" font-size="8.40" textLength="15.00" lengthAdjust="spacingAndGlyphs" fill="#262626">0.4</text>
<text x="17.00" y="490.26" font-size="8.40" textLength="15.00" lengthAdjust="spacingAndGlyphs" fill="#262626">0.4</text>
<text x="225.40" y="593.70" font-size="8.40" textLength="15.00" lengthAdjust="spacingAndGlyphs" fill="#262626">0.6</text>
<text x="17.00" y="442.24" font-size="8.40" textLength="15.00" lengthAdjust="spacingAndGlyphs" fill="#262626">0.6</text>
<text x="290.20" y="593.70" font-size="8.40" textLength="15.00" lengthAdjust="spacingAndGlyphs" fill="#262626">0.8</text>
<text x="17.00" y="394.22" font-size="8.40" textLength="15.00" lengthAdjust="spacingAndGlyphs" fill="#262626">0.8</text>
<text x="355.00" y="593.70" font-size="8.40" textLength="15.00" lengthAdjust="spacingAndGlyphs" fill="#262626">1.0</text>
<text x="17.00" y="346.20" font-size="8.40" textLength="15.00" lengthAdjust="spacingAndGlyphs" fill="#262626">1.0</text>
<text x="186.43" y="603.60" font-size="8.40" textLength="28.13" lengthAdjust="spacingAndGlyphs" fill="#262626">Recall</text>
<text transform="translate(12.9,464.30) rotate(-90)" x="-16.73" y="0" font-size="9.10" textLength="33.46" lengthAdjust="spacingAndGlyphs" fill="#262626">Precision</text>
<text x="138.13" y="339.80" font-size="9.60" textLength="125.14" lengthAdjust="spacingAndGlyphs" fill="#262626" style="stroke-width:0.25px">Precision-Recall Curve</text>
<rect x="380.5" y="347.1" width="162.9" height="117.9" rx="2" fill="#fff" fill-opacity="0.8" stroke="#d9d9d9" stroke-width="0.8"/>
<path d="M383.6,352.50 L403.2,352.50" stroke="#2a86c6" stroke-width="1.3" stroke-linecap="round"/>
<text x="411.00" y="355.30" font-size="8.40" textLength="80.43" lengthAdjust="spacingAndGlyphs" fill="#262626">pedestrian 0.615</text>
<path d="M383.6,363.11 L403.2,363.11" stroke="#ff8a26" stroke-width="1.3" stroke-linecap="round"/>
<text x="411.00" y="365.91" font-size="8.40" textLength="61.96" lengthAdjust="spacingAndGlyphs" fill="#262626">people 0.524</text>
<path d="M383.6,373.72 L403.2,373.72" stroke="#2fb23a" stroke-width="1.3" stroke-linecap="round"/>
<text x="411.00" y="376.52" font-size="8.40" textLength="62.97" lengthAdjust="spacingAndGlyphs" fill="#262626">bicycle 0.279</text>
<path d="M383.6,384.33 L403.2,384.33" stroke="#ff4a4a" stroke-width="1.3" stroke-linecap="round"/>
<text x="411.00" y="387.13" font-size="8.40" textLength="44.83" lengthAdjust="spacingAndGlyphs" fill="#262626">car 0.878</text>
<path d="M383.6,394.94 L403.2,394.94" stroke="#b088dc" stroke-width="1.3" stroke-linecap="round"/>
<text x="411.00" y="397.74" font-size="8.40" textLength="47.33" lengthAdjust="spacingAndGlyphs" fill="#262626">van 0.552</text>
<path d="M383.6,405.55 L403.2,405.55" stroke="#a47464" stroke-width="1.3" stroke-linecap="round"/>
<text x="411.00" y="408.35" font-size="8.40" textLength="54.19" lengthAdjust="spacingAndGlyphs" fill="#262626">truck 0.433</text>
<path d="M383.6,416.16 L403.2,416.16" stroke="#ff80cc" stroke-width="1.3" stroke-linecap="round"/>
<text x="411.00" y="418.96" font-size="8.40" textLength="64.56" lengthAdjust="spacingAndGlyphs" fill="#262626">tricycle 0.393</text>
<path d="M383.6,426.77 L403.2,426.77" stroke="#9c9c9c" stroke-width="1.3" stroke-linecap="round"/>
<text x="411.00" y="429.57" font-size="8.40" textLength="102.01" lengthAdjust="spacingAndGlyphs" fill="#262626">awning-tricycle 0.208</text>
<path d="M383.6,437.38 L403.2,437.38" stroke="#c4c428" stroke-width="1.3" stroke-linecap="round"/>
<text x="411.00" y="440.18" font-size="8.40" textLength="46.87" lengthAdjust="spacingAndGlyphs" fill="#262626">bus 0.693</text>
<path d="M383.6,447.99 L403.2,447.99" stroke="#1ec4d6" stroke-width="1.3" stroke-linecap="round"/>
<text x="411.00" y="450.79" font-size="8.40" textLength="58.29" lengthAdjust="spacingAndGlyphs" fill="#262626">motor 0.639</text>
<path d="M383.6,458.60 L403.2,458.60" stroke="#0000ff" stroke-width="2.3" stroke-linecap="round"/>
<text x="411.00" y="461.40" font-size="8.40" textLength="126.88" lengthAdjust="spacingAndGlyphs" fill="#262626">all classes 0.522 mAP@0.5</text>
<text class="cap" x="268.2" y="311.6" font-size="14.5" fill="#000">(<tspan font-weight="bold">a</tspan>)</text>
<text class="cap" x="267.6" y="632.8" font-size="14.5" fill="#000">(<tspan font-weight="bold">b</tspan>)</text>
</svg>
</body></html>
